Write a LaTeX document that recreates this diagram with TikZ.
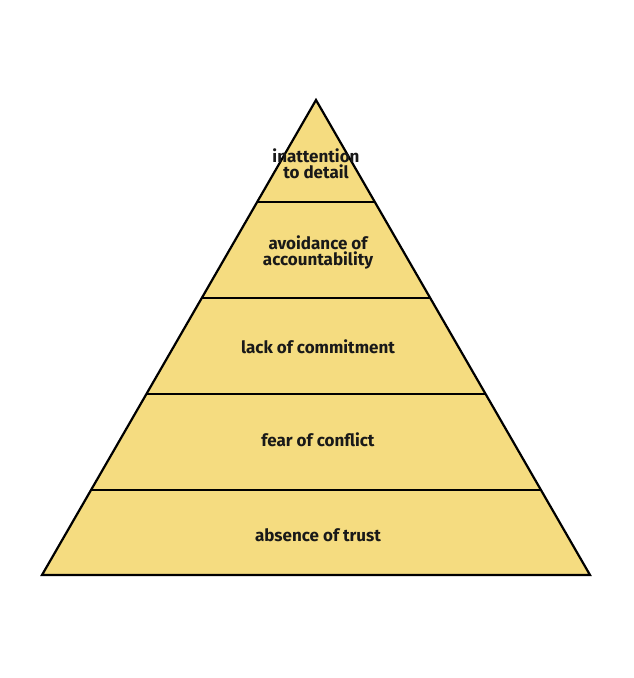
\documentclass[tikz,border=0pt]{standalone}
\usepackage{fontspec}
\setmainfont{Fira Sans}
\begin{document}
\begin{tikzpicture}[x=1pt,y=-1pt,
  lbl/.style={font=\bfseries\fontsize{17}{16}\selectfont,align=center,inner sep=0pt,text=black!90},
  edge/.style={line width=2.2pt,line join=miter}]
\useasboundingbox (0,0) rectangle (633,678);
\coordinate (top) at (316,100);
\coordinate (bl) at (42,575);
\coordinate (br) at (590,575);
\fill[fill={rgb,255:red,245;green,220;blue,128}] (top) -- (bl) -- (br) -- cycle;
\foreach \y/\l/\r [count=\i] in {202/257.2/374.8, 298/201.8/430.2, 394/146.4/485.6, 490/91/541}{
  \coordinate (L\i) at (\l,\y); \coordinate (R\i) at (\r,\y);
  \draw[edge] (L\i) -- (R\i);
}
\draw[edge] (top) -- (bl) -- (br) -- cycle;
\node[lbl] (t1) at (316,164) {inattention\\to detail};
\node[lbl] (t2) at (318,252) {avoidance of\\accountability};
\node[lbl] (t3) at (318,347) {lack of commitment};
\node[lbl] (t4) at (318,440) {fear of conflict};
\node[lbl] (t5) at (318,535) {absence of trust};
\end{tikzpicture}
\end{document}
